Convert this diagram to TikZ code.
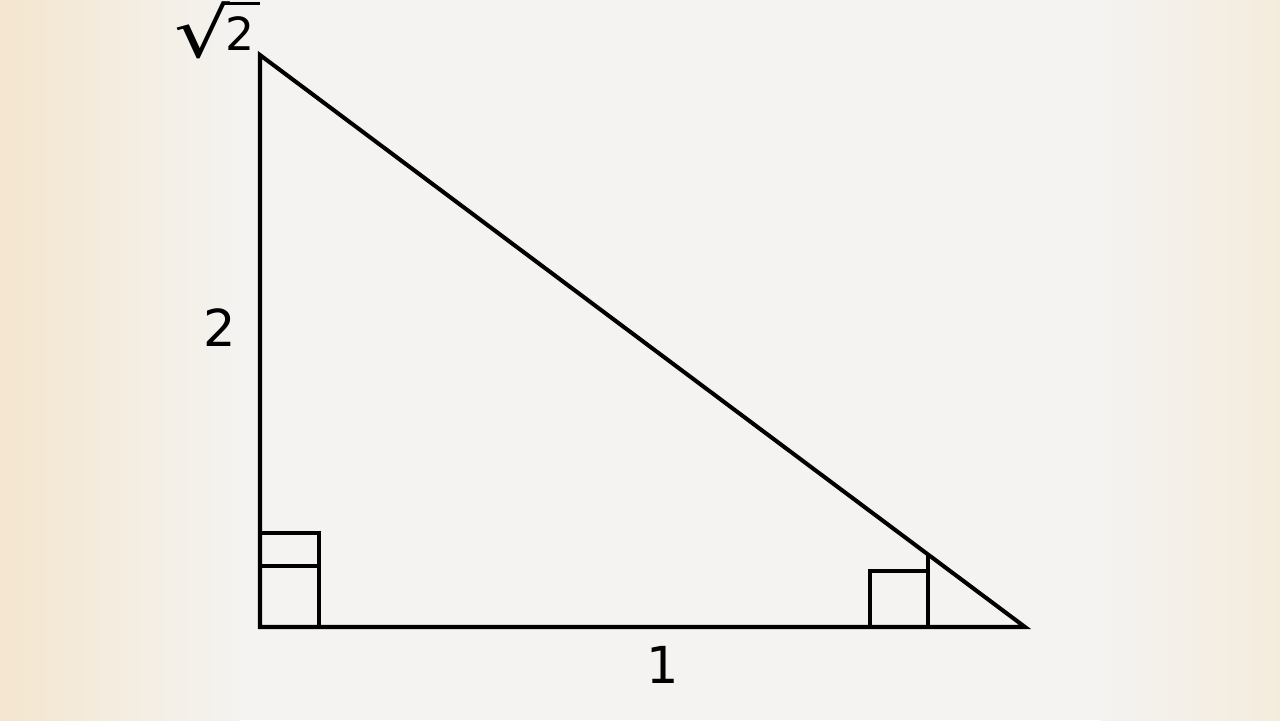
\documentclass[tikz,border=0pt]{standalone}
\usepackage{fontspec}
\setmainfont{DejaVu Sans}
\usetikzlibrary{calc,positioning}
\definecolor{paper}{HTML}{F4F3F1}
\definecolor{beige}{HTML}{F4E6CF}
\newcommand{\rootlabel}[1]{{\fontsize{27}{32}\selectfont\raisebox{-4pt}{\scalebox{1.85}[1.45]{√}}}\kern-4pt\vbox{\hrule height 1.7pt\kern 6.2pt\hbox{\kern1pt#1\kern3pt}}}

\begin{document}
\begin{tikzpicture}[x=0.02cm, y=-0.02cm]
          \tikzset{
              myline/.style={draw=black, line width=2.3pt, line join=miter},
              mymark/.style={draw=black, line width=2.1pt},
              mylabel/.style={inner sep=0pt, font=\fontsize{29}{34}\selectfont}
          }
          % background
          \fill[paper] (0,0) rectangle (1280,720);
          \shade[left color=beige, right color=paper] (0,0) rectangle (240,720);
          \shade[left color=paper, right color=beige!60!paper] (1100,0) rectangle (1280,720);
          \useasboundingbox (0,0) rectangle (1280,720);

          \coordinate (top) at (260,55);
          \coordinate (corner) at (260,627);
          \coordinate (tip) at (1025,627);
          \coordinate (foot) at (928,627);
          \coordinate (hit) at ($(top)!0.8732!(tip)$);

          % triangle
          \draw[myline] (top) -- (corner) -- (tip) -- cycle;

          % right angle marks
          \draw[mymark] (corner) rectangle (319,533);
          \draw[mymark] (260,566) -- (319,566);
          \draw[mymark] (870,627) rectangle (foot |- 0,571);
          \draw[mymark] (foot) -- (hit);

          % labels
          \node[mylabel, font=\fontsize{26}{30}\selectfont, anchor=base east] (root) at (260,50) {\rootlabel{2}};
          \node[mylabel] (side) at (220,328) {2};
          \node[mylabel] (base) at (663,665) {1};
\end{tikzpicture}
\end{document}
